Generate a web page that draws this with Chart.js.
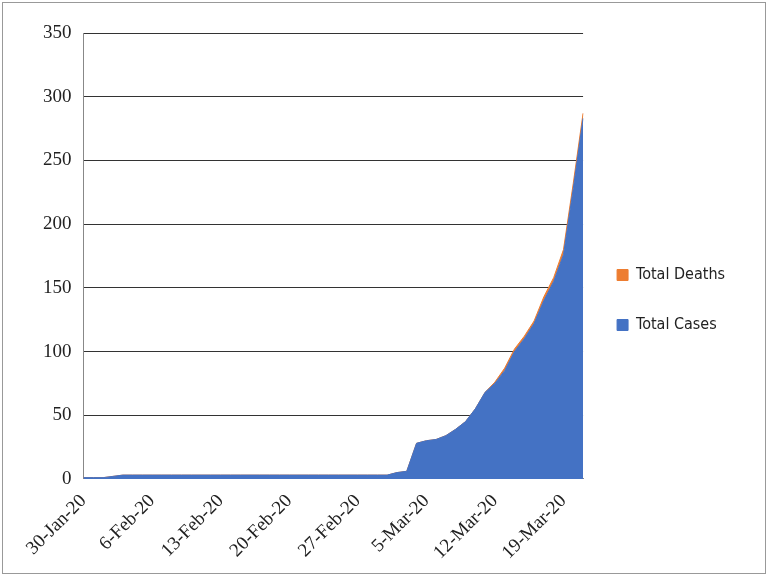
<!DOCTYPE html>
<html>
<head>
<meta charset="utf-8">
<script src="https://cdn.jsdelivr.net/npm/chart.js@4/dist/chart.umd.min.js"></script>
<style>
  body { margin: 0; background: #fff; }
  .wrap { position: absolute; left: 2px; top: 2px; width: 762px; height: 570px; border: 1px solid #999; }
</style>
</head>
<body>
<div class="wrap"><canvas id="c" width="762" height="570"></canvas></div>
<script>
// days from 30-Jan-20 to 21-Mar-20
const months = ["Jan", "Feb", "Mar"];
const labels = [];
for (let d = new Date(2020, 0, 30); d <= new Date(2020, 2, 21); d.setDate(d.getDate() + 1)) {
  labels.push(d.getDate() + "-" + months[d.getMonth()] + "-20");
}
const totalCases = [
  1, 1, 1, 2, 3, 3, 3, 3, 3, 3, 3, 3, 3, 3, 3, 3, 3, 3, 3, 3,
  3, 3, 3, 3, 3, 3, 3, 3, 3, 3, 3, 3, 5, 6, 28, 30, 31, 34, 39, 45,
  55, 68, 75, 85, 100, 110, 122, 140, 155, 176, 228, 283
];
const totalDeaths = [
  0, 0, 0, 0, 0, 0, 0, 0, 0, 0, 0, 0, 0, 0, 0, 0, 0, 0, 0, 0,
  0, 0, 0, 0, 0, 0, 0, 0, 0, 0, 0, 0, 0, 0, 0, 0, 0, 0, 0, 0,
  0, 0, 1, 2, 2, 2, 2, 3, 3, 4, 4, 4
];
const yTicks = [0, 50, 100, 150, 200, 250, 300, 350];

new Chart(document.getElementById("c"), {
  type: "line",
  data: {
    labels: labels,
    datasets: [
      {
        label: "Total Cases",
        data: totalCases,
        backgroundColor: "#4472c4",
        borderColor: "#4472c4",
        borderWidth: 1,
        fill: "origin",
        pointRadius: 0,
        stack: "s",
      },
      {
        label: "Total Deaths",
        data: totalDeaths,
        backgroundColor: "#ed7d31",
        borderColor: "#ed7d31",
        borderWidth: 1,
        fill: "-1",
        pointRadius: 0,
        stack: "s",
      },
    ],
  },
  options: {
    responsive: false,
    animation: false,
    layout: { padding: { left: 28, top: 30, right: 30, bottom: 6 } },
    plugins: {
      legend: {
        position: "right",
        reverse: true,
        labels: {
          boxWidth: 11, boxHeight: 11, padding: 34, color: "#222",
          font: { family: "DejaVu Sans Condensed", size: 16 },
        },
      },
      tooltip: { enabled: false },
    },
    scales: {
      x: {
        offset: false,
        grid: { display: false },
        border: { color: "#888" },
        ticks: {
          autoSkip: false, maxRotation: 45, minRotation: 45, color: "#222",
          font: { family: "Liberation Serif", size: 19 },
          callback: (v, i) => (i % 7 === 0 ? labels[i] : ""),
        },
      },
      y: {
        stacked: true,
        min: 0, max: 350,
        afterBuildTicks: (ax) => { ax.ticks = yTicks.map((v) => ({ value: v })); },
        grid: { color: "#333", drawTicks: false },
        border: { color: "#888" },
        ticks: { padding: 12, color: "#222", font: { family: "Liberation Serif", size: 19 } },
      },
    },
  },
});
</script>
</body>
</html>
